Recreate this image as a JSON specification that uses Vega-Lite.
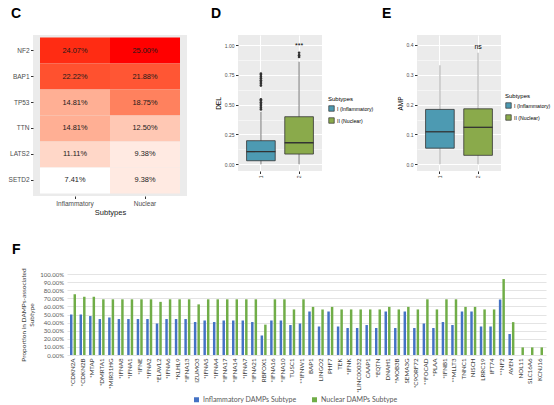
{
  "$schema": "https://vega.github.io/schema/vega-lite/v6.json",
  "background": "white",
  "padding": {"left": 8, "top": 7, "right": 0, "bottom": 0},
  "config": {
    "font": "Liberation Sans",
    "view": {"stroke": null},
    "title": {"fontSize": 14, "fontWeight": "bold", "color": "#000000", "anchor": "start", "frame": "group"},
    "axis": {"labelColor": "#4D4D4D", "tickColor": "#333333", "titleColor": "#000000", "titleFontWeight": "normal", "domain": false}
  },
  "datasets": {
    "heat": [
      {"gene": "NF2", "subtype": "Inflammatory", "pct": 0.2407},
      {"gene": "NF2", "subtype": "Nuclear", "pct": 0.25},
      {"gene": "BAP1", "subtype": "Inflammatory", "pct": 0.2222},
      {"gene": "BAP1", "subtype": "Nuclear", "pct": 0.2188},
      {"gene": "TP53", "subtype": "Inflammatory", "pct": 0.1481},
      {"gene": "TP53", "subtype": "Nuclear", "pct": 0.1875},
      {"gene": "TTN", "subtype": "Inflammatory", "pct": 0.1481},
      {"gene": "TTN", "subtype": "Nuclear", "pct": 0.125},
      {"gene": "LATS2", "subtype": "Inflammatory", "pct": 0.1111},
      {"gene": "LATS2", "subtype": "Nuclear", "pct": 0.0938},
      {"gene": "SETD2", "subtype": "Inflammatory", "pct": 0.0741},
      {"gene": "SETD2", "subtype": "Nuclear", "pct": 0.0938}
    ],
    "delBox": [
      {"grp": "1", "subtype": "I (Inflammatory)", "lower": 0, "q1": 0.03, "median": 0.106, "q3": 0.198, "upper": 0.44},
      {"grp": "2", "subtype": "II (Nuclear)", "lower": 0, "q1": 0.086, "median": 0.181, "q3": 0.399, "upper": 0.86}
    ],
    "delOut": [
      {"grp": "1", "value": 0.46}, {"grp": "1", "value": 0.475}, {"grp": "1", "value": 0.49},
      {"grp": "1", "value": 0.505}, {"grp": "1", "value": 0.52}, {"grp": "1", "value": 0.535},
      {"grp": "1", "value": 0.545}, {"grp": "1", "value": 0.66}, {"grp": "1", "value": 0.675},
      {"grp": "1", "value": 0.69}, {"grp": "1", "value": 0.705}, {"grp": "1", "value": 0.72},
      {"grp": "1", "value": 0.735}, {"grp": "1", "value": 0.75}, {"grp": "1", "value": 0.76},
      {"grp": "2", "value": 0.9}, {"grp": "2", "value": 0.915}, {"grp": "2", "value": 0.935}
    ],
    "ampBox": [
      {"grp": "1", "subtype": "I (Inflammatory)", "lower": 0, "q1": 0.054, "median": 0.109, "q3": 0.184, "upper": 0.332},
      {"grp": "2", "subtype": "II (Nuclear)", "lower": 0, "q1": 0.03, "median": 0.124, "q3": 0.186, "upper": 0.374}
    ],
    "damps": [
      {"gene": "*CDKN2A", "Inflammatory DAMPs Subtype": 0.5, "Nuclear DAMPs Subtype": 0.75},
      {"gene": "*CDKN2B", "Inflammatory DAMPs Subtype": 0.5, "Nuclear DAMPs Subtype": 0.719},
      {"gene": "*MTAP", "Inflammatory DAMPs Subtype": 0.481, "Nuclear DAMPs Subtype": 0.719},
      {"gene": "*DMRTA1", "Inflammatory DAMPs Subtype": 0.444, "Nuclear DAMPs Subtype": 0.6875},
      {"gene": "*MIR31HG", "Inflammatory DAMPs Subtype": 0.463, "Nuclear DAMPs Subtype": 0.6875},
      {"gene": "*IFNA8", "Inflammatory DAMPs Subtype": 0.444, "Nuclear DAMPs Subtype": 0.6875},
      {"gene": "*IFNA1", "Inflammatory DAMPs Subtype": 0.444, "Nuclear DAMPs Subtype": 0.6875},
      {"gene": "*IFNE", "Inflammatory DAMPs Subtype": 0.444, "Nuclear DAMPs Subtype": 0.6875},
      {"gene": "*IFNA2", "Inflammatory DAMPs Subtype": 0.444, "Nuclear DAMPs Subtype": 0.6875},
      {"gene": "*ELAVL2", "Inflammatory DAMPs Subtype": 0.389, "Nuclear DAMPs Subtype": 0.656},
      {"gene": "*IFNA6", "Inflammatory DAMPs Subtype": 0.444, "Nuclear DAMPs Subtype": 0.6875},
      {"gene": "*KLHL9", "Inflammatory DAMPs Subtype": 0.444, "Nuclear DAMPs Subtype": 0.6875},
      {"gene": "*IFNA13", "Inflammatory DAMPs Subtype": 0.444, "Nuclear DAMPs Subtype": 0.6875},
      {"gene": "IZUMO3", "Inflammatory DAMPs Subtype": 0.407, "Nuclear DAMPs Subtype": 0.625},
      {"gene": "*IFNA5", "Inflammatory DAMPs Subtype": 0.426, "Nuclear DAMPs Subtype": 0.6875},
      {"gene": "*IFNA4", "Inflammatory DAMPs Subtype": 0.407, "Nuclear DAMPs Subtype": 0.6875},
      {"gene": "*IFNA17", "Inflammatory DAMPs Subtype": 0.426, "Nuclear DAMPs Subtype": 0.6875},
      {"gene": "*IFNA14", "Inflammatory DAMPs Subtype": 0.426, "Nuclear DAMPs Subtype": 0.6875},
      {"gene": "*IFNA7", "Inflammatory DAMPs Subtype": 0.426, "Nuclear DAMPs Subtype": 0.6875},
      {"gene": "*IFNA21", "Inflammatory DAMPs Subtype": 0.407, "Nuclear DAMPs Subtype": 0.6875},
      {"gene": "RBFOX1", "Inflammatory DAMPs Subtype": 0.241, "Nuclear DAMPs Subtype": 0.375},
      {"gene": "*IFNA16", "Inflammatory DAMPs Subtype": 0.426, "Nuclear DAMPs Subtype": 0.6875},
      {"gene": "*IFNA10", "Inflammatory DAMPs Subtype": 0.426, "Nuclear DAMPs Subtype": 0.6875},
      {"gene": "TUSC1", "Inflammatory DAMPs Subtype": 0.37, "Nuclear DAMPs Subtype": 0.5625},
      {"gene": "**IFNW1", "Inflammatory DAMPs Subtype": 0.389, "Nuclear DAMPs Subtype": 0.6875},
      {"gene": "BAP1", "Inflammatory DAMPs Subtype": 0.537, "Nuclear DAMPs Subtype": 0.594},
      {"gene": "LINGO2", "Inflammatory DAMPs Subtype": 0.352, "Nuclear DAMPs Subtype": 0.5625},
      {"gene": "PHF7", "Inflammatory DAMPs Subtype": 0.537, "Nuclear DAMPs Subtype": 0.594},
      {"gene": "TEK", "Inflammatory DAMPs Subtype": 0.352, "Nuclear DAMPs Subtype": 0.5625},
      {"gene": "*IFNK", "Inflammatory DAMPs Subtype": 0.333, "Nuclear DAMPs Subtype": 0.5625},
      {"gene": "*LINC00032", "Inflammatory DAMPs Subtype": 0.333, "Nuclear DAMPs Subtype": 0.5625},
      {"gene": "CAAP1", "Inflammatory DAMPs Subtype": 0.37, "Nuclear DAMPs Subtype": 0.5625},
      {"gene": "*EQTN", "Inflammatory DAMPs Subtype": 0.333, "Nuclear DAMPs Subtype": 0.5625},
      {"gene": "DNAH1", "Inflammatory DAMPs Subtype": 0.537, "Nuclear DAMPs Subtype": 0.594},
      {"gene": "*MOB3B", "Inflammatory DAMPs Subtype": 0.333, "Nuclear DAMPs Subtype": 0.5625},
      {"gene": "SEMA3G", "Inflammatory DAMPs Subtype": 0.537, "Nuclear DAMPs Subtype": 0.594},
      {"gene": "*C9ORF72", "Inflammatory DAMPs Subtype": 0.333, "Nuclear DAMPs Subtype": 0.5625},
      {"gene": "**FOCAD", "Inflammatory DAMPs Subtype": 0.389, "Nuclear DAMPs Subtype": 0.6875},
      {"gene": "*PLAA", "Inflammatory DAMPs Subtype": 0.333, "Nuclear DAMPs Subtype": 0.5625},
      {"gene": "*IFNB1", "Inflammatory DAMPs Subtype": 0.407, "Nuclear DAMPs Subtype": 0.6875},
      {"gene": "**MLLT3", "Inflammatory DAMPs Subtype": 0.37, "Nuclear DAMPs Subtype": 0.6875},
      {"gene": "TNNC1", "Inflammatory DAMPs Subtype": 0.537, "Nuclear DAMPs Subtype": 0.594},
      {"gene": "NISCH", "Inflammatory DAMPs Subtype": 0.537, "Nuclear DAMPs Subtype": 0.594},
      {"gene": "LRRC19", "Inflammatory DAMPs Subtype": 0.352, "Nuclear DAMPs Subtype": 0.5625},
      {"gene": "IFT74", "Inflammatory DAMPs Subtype": 0.352, "Nuclear DAMPs Subtype": 0.5625},
      {"gene": "**NF2", "Inflammatory DAMPs Subtype": 0.685, "Nuclear DAMPs Subtype": 0.9375},
      {"gene": "AVEN", "Inflammatory DAMPs Subtype": 0.259, "Nuclear DAMPs Subtype": 0.406},
      {"gene": "NOL11", "Nuclear DAMPs Subtype": 0.094},
      {"gene": "SLC16A6", "Nuclear DAMPs Subtype": 0.094},
      {"gene": "KCNJ16", "Nuclear DAMPs Subtype": 0.094}
    ]
  },
  "spacing": 26,
  "resolve": {"scale": {"color": "independent"}, "legend": {"color": "independent"}},
  "vconcat": [
    {
      "spacing": 24,
      "resolve": {"scale": {"color": "independent"}, "legend": {"color": "independent"}},
      "hconcat": [
        {
          "width": 154,
          "height": 161,
          "title": {"text": "C", "dx": -22, "offset": 14},
          "data": {"name": "heat"},
          "view": {"fill": "#EBEBEB"},
          "encoding": {
            "x": {
              "field": "subtype", "type": "nominal", "sort": ["Inflammatory", "Nuclear"],
              "scale": {"paddingInner": 0, "paddingOuter": 0.1},
              "axis": {"title": "Subtypes", "labelAngle": 0, "labelFontSize": 6.5, "titleFontSize": 7.5, "titleFontWeight": "normal", "titleColor": "#1A1A1A", "tickSize": 2.5, "labelPadding": 1.5, "titlePadding": 2}
            },
            "y": {
              "field": "gene", "type": "nominal", "sort": ["NF2", "BAP1", "TP53", "TTN", "LATS2", "SETD2"],
              "scale": {"paddingInner": 0, "paddingOuter": 0.1},
              "axis": {"title": null, "labelFontSize": 6.5, "tickSize": 2.5, "labelPadding": 1.5}
            }
          },
          "layer": [
            {
              "mark": "rect",
              "encoding": {
                "color": {
                  "field": "pct", "type": "quantitative",
                  "scale": {"domain": [0.0741, 0.25], "range": ["#FFFFFF", "#FF0000"], "interpolate": "lab"},
                  "legend": null
                }
              }
            },
            {
              "mark": {"type": "text", "fontSize": 7.4, "color": "#1A1A1A"},
              "encoding": {"text": {"field": "pct", "type": "quantitative", "format": ".2%"}}
            }
          ]
        },
        {
          "spacing": 8,
          "resolve": {"scale": {"color": "independent"}, "legend": {"color": "independent"}},
          "hconcat": [
            {
              "width": 84,
              "height": 136,
              "title": {"text": "D", "dx": -27, "offset": 14},
              "view": {"fill": "#EBEBEB"},
              "resolve": {"axis": {"y": "independent"}},
              "encoding": {
                "x": {
                  "field": "grp", "type": "nominal",
                  "scale": {"domain": ["1", "2"], "paddingInner": 0, "paddingOuter": 0.1},
                  "axis": {"title": null, "labelAngle": -90, "labelFontSize": 5, "tickSize": 2.5, "labelPadding": 1.5, "grid": true, "gridColor": "#FFFFFF", "gridWidth": 1, "bandPosition": 0.5}
                }
              },
              "layer": [
                {
                  "data": {"name": "delBox"},
                  "mark": {"type": "rule", "color": "#555555", "strokeWidth": 0.8},
                  "encoding": {
                    "y": {
                      "field": "lower", "type": "quantitative", "title": "DEL",
                      "scale": {"domain": [-0.056, 1.084], "nice": false, "zero": false},
                      "axis": {
                        "values": [0, 0.25, 0.5, 0.75, 1], "format": ".2f", "labelOverlap": false,
                        "grid": true, "gridColor": "#FFFFFF", "gridWidth": 1,
                        "tickSize": 2.5, "labelFontSize": 5, "labelPadding": 1.5, "titleFontSize": 6.5, "titleFontWeight": "normal", "titlePadding": 3
                      }
                    },
                    "y2": {"field": "upper"}
                  }
                },
                {
                  "data": {"name": "delBox"},
                  "mark": {"type": "bar", "stroke": "#333333", "strokeWidth": 0.8, "width": {"band": 0.75}},
                  "encoding": {
                    "y": {
                      "field": "q1", "type": "quantitative", "title": null,
                      "scale": {"domain": [-0.056, 1.084], "nice": false, "zero": false},
                      "axis": {"orient": "left", "values": [0.125, 0.375, 0.625, 0.875], "labels": false, "ticks": false, "domain": false, "title": null, "grid": true, "gridColor": "#FFFFFF", "gridWidth": 0.5}
                    },
                    "y2": {"field": "q3"},
                    "color": {
                      "field": "subtype", "type": "nominal",
                      "scale": {"domain": ["I (Inflammatory)", "II (Nuclear)"], "range": ["#4D9AB2", "#8AAA4B"]},
                      "legend": {
                        "orient": "none", "legendX": 90, "legendY": 61, "title": "Subtypes",
                        "titleFontSize": 6, "titleFontWeight": "normal", "titleColor": "#000000",
                        "labelFontSize": 5.2, "labelColor": "#000000", "symbolType": "square", "symbolSize": 30,
                        "symbolStrokeColor": "#333333", "symbolStrokeWidth": 0.7, "symbolOpacity": 1,
                        "rowPadding": 3, "labelOffset": 2, "titlePadding": 3
                      }
                    }
                  }
                },
                {
                  "data": {"name": "delBox"},
                  "mark": {"type": "tick", "color": "#333333", "size": 29, "thickness": 1.3, "opacity": 1},
                  "encoding": {
                    "y": {"field": "median", "type": "quantitative", "axis": null, "scale": {"domain": [-0.056, 1.084], "nice": false, "zero": false}}
                  }
                },
                {
                  "data": {"name": "delOut"},
                  "mark": {"type": "point", "filled": true, "color": "#333333", "size": 7, "opacity": 1},
                  "encoding": {
                    "y": {"field": "value", "type": "quantitative", "axis": null, "scale": {"domain": [-0.056, 1.084], "nice": false, "zero": false}}
                  }
                },
                {
                  "data": {"values": [{"grp": "2", "value": 0.99, "label": "***"}]},
                  "mark": {"type": "text", "fontSize": 7, "color": "#000000"},
                  "encoding": {
                    "y": {"field": "value", "type": "quantitative", "axis": null, "scale": {"domain": [-0.056, 1.084], "nice": false, "zero": false}},
                    "text": {"field": "label"}
                  }
                }
              ]
            },
            {
              "width": 84,
              "height": 136,
              "title": {"text": "E", "dx": -35, "offset": 14},
              "view": {"fill": "#EBEBEB"},
              "resolve": {"axis": {"y": "independent"}},
              "encoding": {
                "x": {
                  "field": "grp", "type": "nominal",
                  "scale": {"domain": ["1", "2"], "paddingInner": 0, "paddingOuter": 0.1},
                  "axis": {"title": null, "labelAngle": -90, "labelFontSize": 5, "tickSize": 2.5, "labelPadding": 1.5, "grid": true, "gridColor": "#FFFFFF", "gridWidth": 1, "bandPosition": 0.5}
                }
              },
              "layer": [
                {
                  "data": {"name": "ampBox"},
                  "mark": {"type": "rule", "color": "#999999", "strokeWidth": 0.8},
                  "encoding": {
                    "y": {
                      "field": "lower", "type": "quantitative", "title": "AMP",
                      "scale": {"domain": [-0.0225, 0.4335], "nice": false, "zero": false},
                      "axis": {
                        "values": [0, 0.1, 0.2, 0.3, 0.4], "format": ".1f", "labelOverlap": false,
                        "grid": true, "gridColor": "#FFFFFF", "gridWidth": 1,
                        "tickSize": 2.5, "labelFontSize": 5, "labelPadding": 1.5, "titleFontSize": 6.5, "titleFontWeight": "normal", "titlePadding": 3
                      }
                    },
                    "y2": {"field": "upper"}
                  }
                },
                {
                  "data": {"name": "ampBox"},
                  "mark": {"type": "bar", "stroke": "#333333", "strokeWidth": 0.8, "width": {"band": 0.75}},
                  "encoding": {
                    "y": {
                      "field": "q1", "type": "quantitative", "title": null,
                      "scale": {"domain": [-0.0225, 0.4335], "nice": false, "zero": false},
                      "axis": {"orient": "left", "values": [0.05, 0.15, 0.25, 0.35], "labels": false, "ticks": false, "domain": false, "title": null, "grid": true, "gridColor": "#FFFFFF", "gridWidth": 0.5}
                    },
                    "y2": {"field": "q3"},
                    "color": {
                      "field": "subtype", "type": "nominal",
                      "scale": {"domain": ["I (Inflammatory)", "II (Nuclear)"], "range": ["#4D9AB2", "#8AAA4B"]},
                      "legend": {
                        "orient": "none", "legendX": 88, "legendY": 58, "title": "Subtypes",
                        "titleFontSize": 6, "titleFontWeight": "normal", "titleColor": "#000000",
                        "labelFontSize": 5.2, "labelColor": "#000000", "symbolType": "square", "symbolSize": 30,
                        "symbolStrokeColor": "#333333", "symbolStrokeWidth": 0.7, "symbolOpacity": 1,
                        "rowPadding": 3, "labelOffset": 2, "titlePadding": 3
                      }
                    }
                  }
                },
                {
                  "data": {"name": "ampBox"},
                  "mark": {"type": "tick", "color": "#333333", "size": 29, "thickness": 1.3, "opacity": 1},
                  "encoding": {
                    "y": {"field": "median", "type": "quantitative", "axis": null, "scale": {"domain": [-0.0225, 0.4335], "nice": false, "zero": false}}
                  }
                },
                {
                  "data": {"values": [{"grp": "2", "value": 0.392, "label": "ns"}]},
                  "mark": {"type": "text", "fontSize": 7, "color": "#000000"},
                  "encoding": {
                    "y": {"field": "value", "type": "quantitative", "axis": null, "scale": {"domain": [-0.0225, 0.4335], "nice": false, "zero": false}},
                    "text": {"field": "label"}
                  }
                }
              ]
            }
          ]
        }
      ]
    },
    {
      "spacing": 0,
      "bounds": "flush",
      "resolve": {"scale": {"color": "independent"}, "legend": {"color": "independent"}},
      "hconcat": [
        {
          "width": 34,
          "height": 10,
          "data": {"values": []},
          "mark": "point"
        },
        {
          "width": 479,
          "height": 81,
          "title": {"text": "F", "dx": -55, "offset": 11},
          "data": {"name": "damps"},
          "transform": [{"fold": ["Inflammatory DAMPs Subtype", "Nuclear DAMPs Subtype"], "as": ["series", "value"]}],
          "mark": {"type": "bar"},
          "encoding": {
            "x": {
              "field": "gene", "type": "nominal", "sort": null,
              "scale": {"paddingInner": 0.37, "paddingOuter": 0.315},
              "axis": {"title": null, "labelAngle": -90, "labelFont": "Lato", "labelFontSize": 6.2, "labelColor": "#404040", "ticks": false, "labelPadding": 3, "labelOverlap": false}
            },
            "xOffset": {
              "field": "series", "type": "nominal", "sort": ["Inflammatory DAMPs Subtype", "Nuclear DAMPs Subtype"],
              "scale": {"paddingInner": 0.3}
            },
            "y": {
              "field": "value", "type": "quantitative",
              "scale": {"domain": [0, 1], "nice": false},
              "axis": {
                "title": ["Proportion in DAMPs-associated", "Subtype"],
                "values": [0, 0.1, 0.2, 0.3, 0.4, 0.5, 0.6, 0.7, 0.8, 0.9, 1],
                "format": ".2%", "grid": true, "gridColor": "#D9D9D9", "gridWidth": 0.7, "ticks": false,
                "labelFont": "Lato", "labelFontSize": 6, "labelColor": "#595959", "labelPadding": 3.5,
                "titleFont": "Lato", "titleFontSize": 6.5, "titleFontWeight": "normal", "titleColor": "#404040", "titlePadding": 5, "titleLineHeight": 8
              }
            },
            "color": {
              "field": "series", "type": "nominal",
              "scale": {"domain": ["Inflammatory DAMPs Subtype", "Nuclear DAMPs Subtype"], "range": ["#4472C4", "#70AD47"]},
              "legend": {
                "orient": "none", "legendX": 126, "legendY": 122, "direction": "horizontal", "title": null,
                "symbolType": "square", "symbolSize": 25, "symbolOpacity": 1,
                "labelFont": "Lato", "labelFontSize": 7, "labelColor": "#595959", "columnPadding": 14, "labelOffset": 3
              }
            }
          }
        }
      ]
    }
  ]
}
